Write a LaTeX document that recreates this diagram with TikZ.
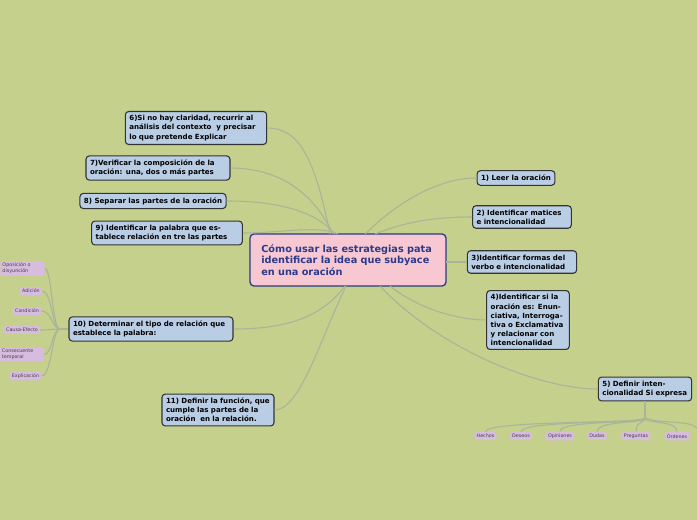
\documentclass[tikz,border=0pt]{standalone}
\usepackage{fontspec}
\setmainfont{DejaVu Sans}
\begin{document}
\begin{tikzpicture}[x=0.75pt,y=-0.75pt,
 box/.style={draw=black!80,fill=boxc,rounded corners=2.5pt,line width=0.8pt,font=\bfseries\fontsize{5.3}{6.8}\selectfont,align=left,inner sep=3pt,anchor=center},
 leaf/.style={fill=leafc,rounded corners=1pt,font=\fontsize{3.6}{4.4}\selectfont,inner sep=1.5pt,text=black!75,align=center},
 ln/.style={draw=linec,line width=0.8pt}]
\definecolor{bg}{HTML}{C4D08C}
\definecolor{boxc}{HTML}{B9CDE5}
\definecolor{leafc}{HTML}{D8BCE0}
\definecolor{linec}{HTML}{A9B49A}
\definecolor{cpink}{HTML}{F8C8D2}
\definecolor{cblue}{HTML}{2B3A8A}
\fill[bg] (0,0) rectangle (697,520);
\useasboundingbox (0,0) rectangle (697,520);
% central
\node[draw=cblue,fill=cpink,rounded corners=3pt,line width=1pt,text=cblue,font=\bfseries\fontsize{7.3}{8.6}\selectfont,align=left,minimum width=147pt,minimum height=39pt,text width=130pt] (c) at (348,260) {Cómo usar las estrategias pata identificar la idea que subyace en una oración};
% children
\node[box,text width=100pt] (n6) at (196,128) {6)Si no hay claridad, recurrir al análisis del contexto\ \ y precisar lo que pretende Explicar};
\node[box,text width=102pt] (n7) at (158,168) {7)Verificar la composición de la oración: una, dos o más partes};
\node[box] (n8) at (153,201) {8) Separar las partes de la oración};
\node[box,text width=107pt] (n9) at (167,233) {9) Identificar la palabra que establece relación en tre las partes};
\node[box,text width=117pt] (n10) at (151,329) {10) Determinar el tipo de relación que establece la palabra:};
\node[box,text width=78pt] (n11) at (218,410) {11) Definir la función, que cumple las partes de la oración\ \ en la relación.};
\node[box] (n1) at (516,178) {1) Leer la oración};
\node[box,text width=68pt] (n2) at (522,217) {2) Identificar matices e intencionalidad};
\node[box,text width=76pt] (n3) at (522,262) {3)Identificar formas del verbo e intencionalidad};
\node[box,text width=56pt] (n4) at (528,320) {4)Identificar si la oración es: Enunciativa, Interrogativa o Exclamativa y relacionar con intencionalidad};
\node[box,text width=64pt] (n5) at (645,389) {5) Definir intencionalidad Si expresa};
% left leaves
\node[leaf,text width=30pt,align=left] (l1) at (22.5,268.5) {Oposición o disyunción};
\node[leaf] (l2) at (31,291) {Adición};
\node[leaf] (l3) at (27,311) {Condición};
\node[leaf] (l4) at (22,330) {Causa-Efecto};
\node[leaf,text width=30pt,align=left] (l5) at (22,354.5) {Consecuente temporal};
\node[leaf] (l6) at (25.5,376) {Explicación};
% bottom leaves
\node[leaf] (b1) at (485.5,436) {Hechos};
\node[leaf] (b2) at (521,436) {Deseos};
\node[leaf] (b3) at (560,436) {Opiniones};
\node[leaf] (b4) at (597,436) {Dudas};
\node[leaf] (b5) at (636,436) {Preguntas};
\node[leaf] (b6) at (677,436) {Órdenes};
% connectors from central
\path[ln] (c.north) ++(-20,0) coordinate (cl) ;
\draw[ln] (330,234) .. controls (315,160) and (300,128) .. (n6.east);
\draw[ln] (333,234) .. controls (310,185) and (270,168) .. (n7.east);
\draw[ln] (335,234) .. controls (310,205) and (260,201) .. (n8.east);
\draw[ln] (338,234) .. controls (320,225) and (280,233) .. (n9.east);
\draw[ln] (345,286) .. controls (320,320) and (280,329) .. (n10.east);
\draw[ln] (346,286) .. controls (320,340) and (300,410) .. (n11.east);
\draw[ln] (365,234) .. controls (400,200) and (440,178) .. (n1.west);
\draw[ln] (375,234) .. controls (410,220) and (440,217) .. (n2.west);
\draw[ln] (446,262) -- (n3.west);
\draw[ln] (390,286) .. controls (420,310) and (460,320) .. (n4.west);
\draw[ln] (380,286) .. controls (440,350) and (540,389) .. (n5.west);
% leaves connectors
\coordinate (j10) at (60,329);
\draw[ln] (n10.west) -- (j10);
\foreach \l in {l1,l2,l3,l4,l5,l6}{\draw[ln] (j10) .. controls (52,329) and (52,0|-\l.east) .. (\l.east);}
\coordinate (j5) at (645,418);
\draw[ln] (n5.south) -- (j5);
\foreach \l in {b1,b2,b3,b4,b5,b6}{\draw[ln] (j5) .. controls (645,424) and (\l.north|-0,420) .. (\l.north);}
\draw[ln] (j5) .. controls (660,424) and (690,420) .. (697,428);
\end{tikzpicture}
\end{document}
